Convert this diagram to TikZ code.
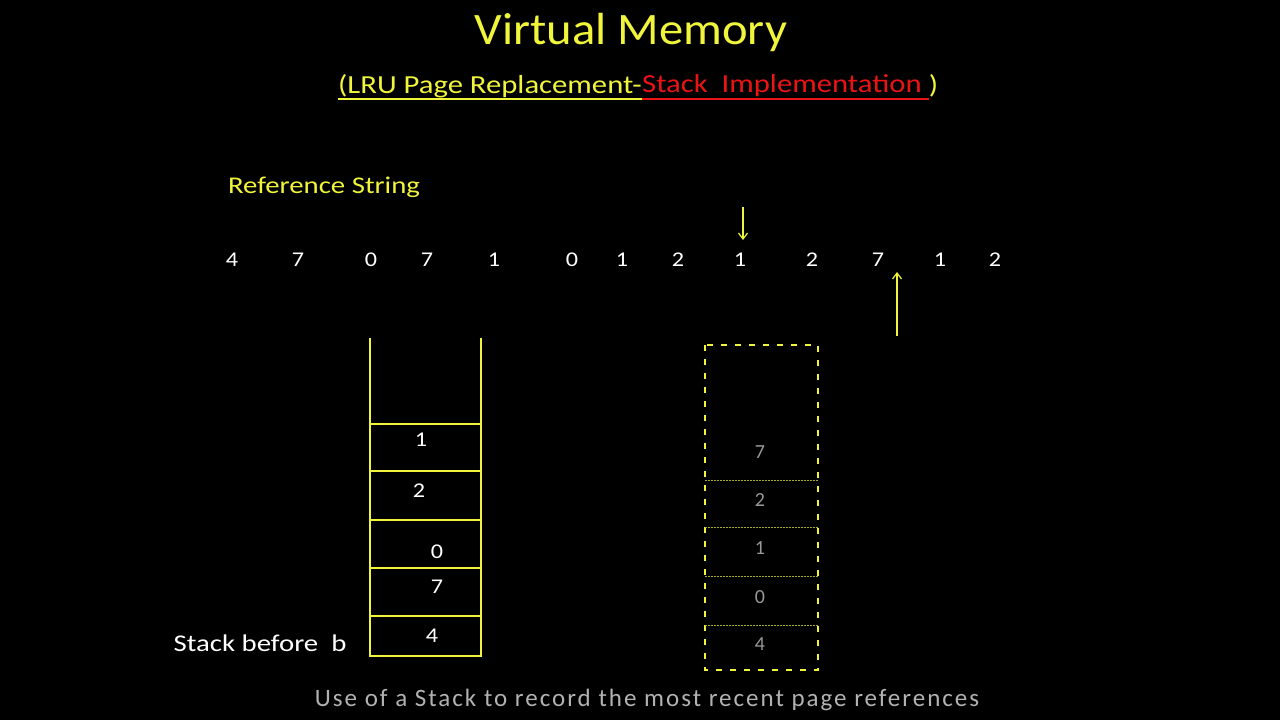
\documentclass[tikz,border=0pt]{standalone}
\usepackage{fontspec}
\usetikzlibrary{arrows.meta}
\setmainfont{Carlito}
\begin{document}
\begin{tikzpicture}[x=1pt,y=-1pt,
  yl/.style={draw=ylw,line width=1.6pt},
  num/.style={text=white,font=\fontsize{21}{21}\selectfont\addfontfeature{FakeStretch=1.15}},
  gnum/.style={text=gray!80,font=\fontsize{20}{20}\selectfont},
  dsh/.style={draw=ylw,line width=1.6pt,dash pattern=on 6pt off 8pt}]
\definecolor{ylw}{RGB}{240,245,60}
\definecolor{rd}{RGB}{235,20,20}
\fill[black] (0,0) rectangle (1280,720);
\useasboundingbox (0,0) rectangle (1280,720);
\node[text=ylw,font=\fontsize{45}{45}\selectfont\addfontfeature{FakeStretch=1.08}] (title) at (631,33) {Virtual Memory};
\node[anchor=west,inner sep=0,text=ylw,font=\fontsize{26}{26}\selectfont\addfontfeature{FakeStretch=1.18}] (sub1) at (338,86) {(LRU Page Replacement-};
\node[anchor=west,inner sep=0,text=rd,font=\fontsize{26}{26}\selectfont\addfontfeature{FakeStretch=1.18}] (sub2) at (sub1.east) {Stack\ \ Implementation\ \ };
\node[anchor=west,inner sep=0,text=ylw,font=\fontsize{26}{26}\selectfont\addfontfeature{FakeStretch=1.18}] (sub3) at (sub2.east) {)};
\draw[ylw,line width=1.5pt] (338,99) -- (sub2.west |- 0,99);
\draw[rd,line width=1.5pt] (sub2.west |- 0,99) -- (sub3.west |- 0,99);
\node[text=ylw,font=\fontsize{24}{24}\selectfont\addfontfeature{FakeStretch=1.2}] (rs) at (324,187) {Reference String};
\foreach \x/\v [count=\i] in {232/4,298/7,371/0,427/7,494/1,572/0,622/1,678/2,740/1,812/2,878/7,940/1,995/2}
  \node[num] (r\i) at (\x,260) {\v};
\coordinate (da) at (743,207); \coordinate (db) at (743,240);
\draw[ylw,line width=1.2pt,-{Straight Barb[length=6pt,width=9pt]}] (da) -- (db);
\coordinate (ua) at (897,336); \coordinate (ub) at (897,272);
\draw[ylw,line width=1.2pt,-{Straight Barb[length=6pt,width=9pt]}] (ua) -- (ub);
% left stack
\draw[yl] (370,338) -- (370,656) -- (481,656) -- (481,338);
\foreach \y in {424,471,520,568,616} \draw[yl] (370,\y) -- (481,\y);
\node[num] (l1) at (421,440) {1};
\node[num] (l2) at (419,491) {2};
\node[num] (l3) at (437,552) {0};
\node[num] (l4) at (437,587) {7};
\node[num] (l5) at (432,636) {4};
\node[text=white,font=\fontsize{24}{24}\selectfont\addfontfeature{FakeStretch=1.2}] (sb) at (260,643) {Stack before\ \ b};
% right stack
\draw[dsh] (705,345) rectangle (818,670);
\foreach \y in {480,527,576,625} \draw[ylw!70!black,line width=1pt,dash pattern=on 2pt off 1pt] (705,\y) -- (818,\y);
\node[gnum] (g1) at (760,452) {7};
\node[gnum] (g2) at (760,500) {2};
\node[gnum] (g3) at (760,548) {1};
\node[gnum] (g4) at (760,597) {0};
\node[gnum] (g5) at (760,644) {4};
\node[text=gray!60,font=\fontsize{25}{25}\selectfont\addfontfeature{LetterSpace=8}] (bt) at (647,700) {Use of a Stack to record the most recent page references};
\end{tikzpicture}
\end{document}
